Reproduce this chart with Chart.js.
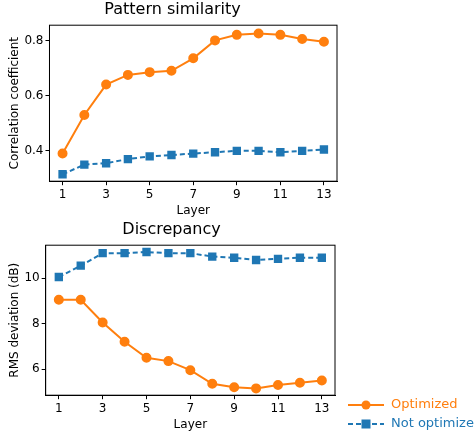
<!DOCTYPE html><html><head><script src="https://cdn.jsdelivr.net/npm/chart.js@4"></script>
<style>body{margin:0;background:#fff;width:474px;height:432px;position:relative;overflow:hidden}
.c{position:absolute;left:0}</style></head><body>
<div class="c" style="top:0;width:345px;height:218px"><canvas id="a"></canvas></div>
<div class="c" style="top:220px;width:474px;height:212px"><canvas id="b"></canvas></div>
<script>
const layers=[1,2,3,4,5,6,7,8,9,10,11,12,13];
const xTicks=[1,3,5,7,9,11,13];
const simOpt=[0.39,0.53,0.64,0.675,0.685,0.69,0.735,0.80,0.82,0.825,0.82,0.805,0.795];
const simNot=[0.315,0.35,0.355,0.37,0.38,0.385,0.39,0.395,0.40,0.40,0.395,0.40,0.405];
const rmsOpt=[9.05,9.05,8.05,7.2,6.5,6.35,5.95,5.35,5.2,5.15,5.3,5.4,5.5];
const rmsNot=[10.05,10.55,11.1,11.1,11.15,11.1,11.1,10.95,10.9,10.8,10.85,10.9,10.9];
const yTop=[0.4,0.6,0.8], yBot=[6,8,10];
const O='#ff7f0e',B='#1f77b4';
Chart.defaults.font.family='DejaVu Sans';Chart.defaults.color='#000';
const box={id:'box',afterDraw(c){const a=c.chartArea,x=c.ctx;x.save();x.strokeStyle='#000';x.lineWidth=1;x.strokeRect(a.left,a.top,a.right-a.left,a.bottom-a.top);x.restore();}};
const leg={id:'leg',afterDraw(c){const x=c.ctx;x.save();x.font='13px DejaVu Sans';x.textBaseline='middle';
[[O,'Optimized',[],'circle',185],[B,'Not optimized',[5,3],'rect',204]].forEach(([col,t,d,s,y])=>{
x.strokeStyle=col;x.fillStyle=col;x.lineWidth=2;x.setLineDash(d);x.beginPath();x.moveTo(348,y);x.lineTo(384,y);x.stroke();x.setLineDash([]);
if(s==='circle'){x.beginPath();x.arc(366,y,4.5,0,7);x.fill();}else x.fillRect(361.5,y-4.5,9,9);
x.fillText(t,391,y);});x.restore();}};
function mk(id,title,ytitle,o,n,ymin,ymax,yt,pad){
new Chart(document.getElementById(id),{type:'line',data:{labels:layers,datasets:[
{data:o.map((v,i)=>({x:layers[i],y:v})),borderColor:O,backgroundColor:O,pointRadius:4,pointStyle:'circle',borderWidth:2},
{data:n.map((v,i)=>({x:layers[i],y:v})),borderColor:B,backgroundColor:B,pointRadius:4.5,pointStyle:'rect',borderWidth:2,borderDash:[5,3]}]},
options:{animation:false,responsive:true,maintainAspectRatio:false,layout:{padding:{right:pad,top:0,left:8,bottom:0}},
plugins:{legend:{display:false},tooltip:{enabled:false},title:{display:true,text:title,font:{size:16,weight:'normal'},padding:{top:0,bottom:6}}},
scales:{x:{type:'linear',min:0.4,max:13.6,afterBuildTicks:s=>{s.ticks=xTicks.map(v=>({value:v}))},
grid:{drawOnChartArea:false,color:'#000',tickLength:4},border:{color:'#000'},ticks:{font:{size:12},padding:2},title:{display:true,text:'Layer',font:{size:12},padding:0}},
y:{min:ymin,max:ymax,afterBuildTicks:s=>{s.ticks=yt.map(v=>({value:v}))},
grid:{drawOnChartArea:false,color:'#000',tickLength:4},border:{color:'#000'},ticks:{font:{size:12},padding:2,callback:v=>yt===yTop?v.toFixed(1):v},title:{display:true,text:ytitle,font:{size:12},padding:0}}}},
plugins:id==='b'?[box,leg]:[box]});}
mk('a','Pattern similarity','Correlation coefficient',simOpt,simNot,0.29,0.855,yTop,8);
mk('b','Discrepancy','RMS deviation (dB)',rmsOpt,rmsNot,4.85,11.45,yBot,139);
</script></body></html>
